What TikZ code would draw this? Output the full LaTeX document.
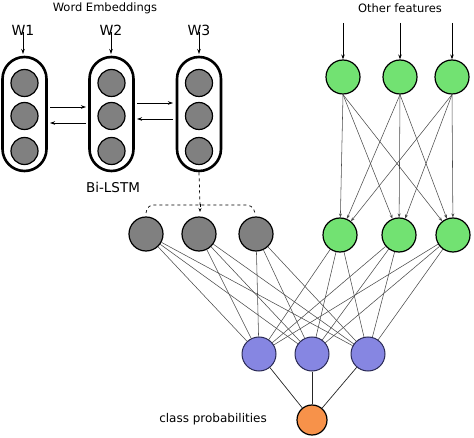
\documentclass[tikz,border=0pt]{standalone}
\usepackage{fontspec}
\setmainfont{DejaVu Sans}
\usetikzlibrary{arrows.meta}
\definecolor{cgray}{HTML}{808080}
\definecolor{cgreen}{HTML}{72E272}
\definecolor{cblue}{HTML}{8686E2}
\definecolor{cbluedk}{HTML}{2A2A55}
\definecolor{corange}{HTML}{F7924A}
\tikzset{
  neuron/.style={circle,draw=black,line width=1.2pt,minimum size=#1,inner sep=0pt},
  grayn/.style={neuron=34pt,fill=cgray},
  smallg/.style={neuron=27pt,fill=cgray},
  greenn/.style={neuron=34pt,fill=cgreen},
  bluen/.style={neuron=34pt,fill=cblue,draw=cbluedk,line width=1pt},
  orangen/.style={neuron=30pt,fill=corange},
  capsule/.style={draw=black,line width=2.6pt,rounded corners=22pt,minimum width=44pt,minimum height=114pt,inner sep=0pt},
  conn/.style={draw=black!70,line width=0.55pt},
  arr/.style={-{Stealth[length=5pt,width=3.5pt]},line width=0.8pt},
  sarr/.style={-{Stealth[length=4pt,width=3pt]},draw=black!70,line width=0.55pt},
  lbl/.style={font=\fontsize{#1}{#1}\selectfont,inner sep=0pt},
}
\begin{document}
\begin{tikzpicture}[x=1pt,y=-1pt]
\useasboundingbox (0,0) rectangle (474,438);
% titles
\node[lbl=11.5] (we) at (105,8) {Word Embeddings};
\node[lbl=11.5] (of) at (400,8) {Other features};
\node[lbl=14] (w1) at (23,30) {W1};
\node[lbl=14] (w2) at (111,30) {W2};
\node[lbl=14] (w3) at (199,30) {W3};
% capsules
\node[capsule] (c1) at (24.5,114) {};
\node[capsule] (c2) at (111.5,114) {};
\node[capsule] (c3) at (199,114) {};
\foreach \c/\x in {1/24.5,2/111.5,3/199}{
  \node[smallg] (c\c a) at (\x,83) {};
  \node[smallg] (c\c b) at (\x,116) {};
  \node[smallg] (c\c c) at (\x,151) {};
}
\node[lbl=13.5] (bl) at (113,187) {Bi-LSTM};
% word arrows
\coordinate (w1e) at (23,54);
\coordinate (w2e) at (111,54);
\coordinate (w3e) at (199,54);
\draw[arr] (w1.south) ++(0,-3) -- (w1e);
\draw[arr] (w2.south) ++(0,-3) -- (w2e);
\draw[arr] (w3.south) ++(0,-3) -- (w3e);
% horizontal arrows
\draw[arr] (50,107) -- (86,107);
\draw[arr] (86,123) -- (50,123);
\draw[arr] (137,103) -- (173,103);
\draw[arr] (173,119) -- (137,119);
% gray row
\node[grayn] (g1) at (146,234) {};
\node[grayn] (g2) at (199,234) {};
\node[grayn] (g3) at (256,234) {};
% dashed bracket
\draw[dashed,line width=0.7pt] (c3.south) -- (200,205);
\draw[dashed,line width=0.7pt,rounded corners=5pt] (146,213) -- (148,205) -- (252,205) -- (255,213);
\draw[dashed,line width=0.7pt,-{Stealth[length=4pt,width=3pt]}] (200,204) -- (200,212);
% green top
\node[greenn] (t1) at (343,77) {};
\node[greenn] (t2) at (400,77) {};
\node[greenn] (t3) at (452,77) {};
\foreach \i/\x in {1/343,2/400,3/452}{
  \coordinate (of\i) at (\x,23);
  \draw[arr] (of\i) -- (t\i.north);
}
% green bottom
\node[greenn] (b1) at (340,235) {};
\node[greenn] (b2) at (399,235) {};
\node[greenn] (b3) at (453,235) {};
\foreach \i in {1,2,3}{\foreach \j in {1,2,3}{
  \draw[sarr] (t\i.south) -- (b\j);
}}
% blue
\node[bluen] (h1) at (259,354) {};
\node[bluen] (h2) at (312,354) {};
\node[bluen] (h3) at (368,354) {};
\foreach \s in {g1,g2,g3,b1,b2,b3}{\foreach \j in {1,2,3}{
  \draw[conn] (\s) -- (h\j);
}}
% output
\node[orangen] (o) at (312,420) {};
\foreach \j in {1,2,3}{\draw[conn,draw=black!85,line width=0.7pt] (h\j) -- (o);}
\node[lbl=12] (cp) at (213,419) {class probabilities};
\end{tikzpicture}
\end{document}
